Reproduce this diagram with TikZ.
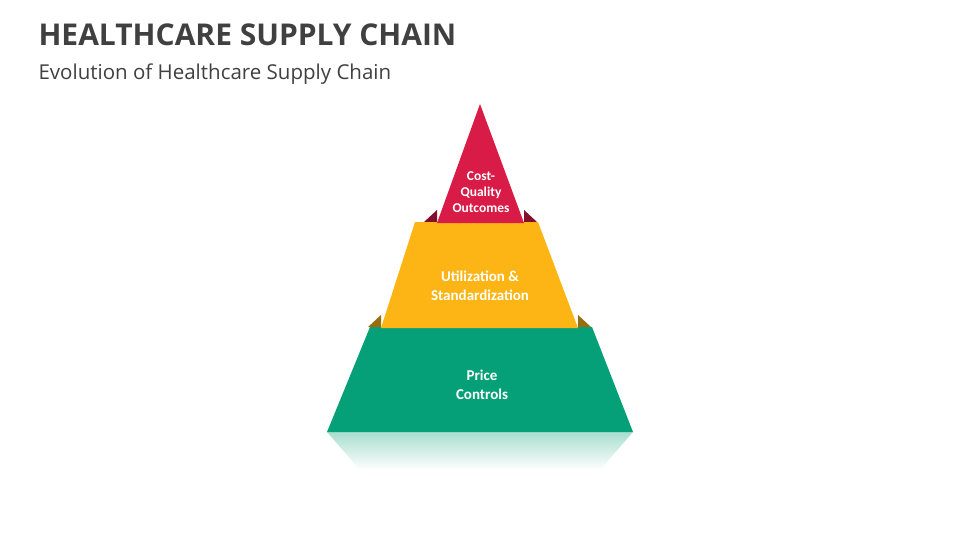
\documentclass[tikz,border=0pt]{standalone}
\usepackage{fontspec}
\setmainfont{Carlito}
\newfontfamily\headfont{Open Sans}
\definecolor{tierred}{HTML}{D81B47}
\definecolor{tieryellow}{HTML}{FDB515}
\definecolor{tiergreen}{HTML}{06A078}
\definecolor{titlegrey}{HTML}{404040}

\begin{document}
\begin{tikzpicture}[x=1pt,y=-1pt]
	\tikzstyle{label} = [text=white, align=center, font=\fontsize{13.5}{16}\selectfont\bfseries]
	\tikzstyle{flap} = [draw=none]

	\useasboundingbox (0,0) rectangle (960,540);

	\node[anchor=west, text=titlegrey, font=\headfont\fontsize{30}{36}\selectfont\bfseries] (title) at (35,35) {HEALTHCARE SUPPLY CHAIN};
	\node[anchor=west, text=titlegrey, font=\headfont\fontsize{20.5}{24}\selectfont] (subtitle) at (35,74) {Evolution of Healthcare Supply Chain};

	% reflection
	\shade[top color=tiergreen!35, bottom color=white] (327,432) -- (633,432) -- (600,470) -- (360,470) -- cycle;

	% side flaps
	\fill[flap, fill=tierred!60!black] (424,222) -- (437,210) -- (437,222) -- cycle;
	\fill[flap, fill=tierred!60!black] (537,222) -- (524,210) -- (524,222) -- cycle;
	\fill[flap, fill=tieryellow!60!black] (368,327) -- (381,315) -- (381,327) -- cycle;
	\fill[flap, fill=tieryellow!60!black] (591,327) -- (578,315) -- (578,327) -- cycle;

	% tiers
	\fill[tiergreen] (370,327) -- (592,327) -- (633,432) -- (327,432) -- cycle;
	\fill[tieryellow] (415,222) -- (538,222) -- (578,328) -- (381,328) -- cycle;
	\fill[tierred] (480,104) -- (524,223) -- (437,223) -- cycle;

	\node[label] (n1) at (481,192) {Cost-\\Quality\\Outcomes};
	\node[label, font=\fontsize{15}{19}\selectfont\bfseries] (n2) at (480,286) {Utilization \&\\Standardization};
	\node[label, font=\fontsize{15}{19}\selectfont\bfseries] (n3) at (482,385) {Price\\Controls};
\end{tikzpicture}
\end{document}
